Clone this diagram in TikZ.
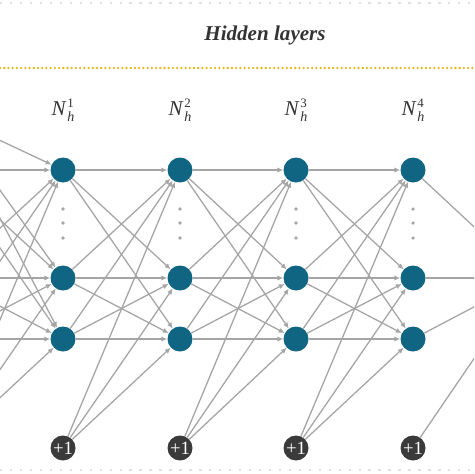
\documentclass[tikz,border=0pt]{standalone}
\usepackage{fontspec}
\setmainfont{Liberation Serif}
\usetikzlibrary{arrows.meta}

\definecolor{nodeteal}{RGB}{16,101,130}
\definecolor{biasgray}{RGB}{58,58,58}
\definecolor{wiregray}{RGB}{165,165,165}
\definecolor{rulegold}{RGB}{230,180,30}

\newcommand{\layerlab}[1]{\textit{N}\kern0.6pt\rlap{\raisebox{0.85ex}{\fontsize{11}{11}\selectfont #1}}\raisebox{-0.55ex}{\fontsize{12}{12}\selectfont\textit{h}}}

\tikzset{
    neuron/.style={circle, fill=nodeteal, minimum size=0.75cm, inner sep=0pt},
    biasunit/.style={circle, fill=biasgray, minimum size=0.75cm, inner sep=0pt,
        text=white, font=\fontsize{16}{16}\selectfont},
    wire/.style={wiregray, line width=1.1pt, -{Latex[length=5pt,width=4.5pt]}},
}

\begin{document}
\begin{tikzpicture}[x=0.03cm, y=-0.03cm]
    \useasboundingbox (0,0) rectangle (474,474);
    \clip (0,0) rectangle (474,474);

    % Frame rules
    \draw[gray!25, line width=2pt, dash pattern=on 2pt off 6.5pt] (0,3) -- (474,3);
    \draw[gray!25, line width=2pt, dash pattern=on 2pt off 6.5pt] (0,470) -- (474,470);

    % Title
    \node[font=\bfseries\itshape\fontsize{18}{20}\selectfont, text=black!80] (title) at (265,35) {Hidden layers};
    \draw[rulegold, line width=2.2pt, line cap=round, dash pattern=on 0pt off 3.6pt] (0,68) -- (474,68);

    % Hidden layers
    \foreach \c/\x in {1/63,2/180,3/296,4/413}{
        \node[font=\fontsize{18}{20}\selectfont, text=black!80] (lab\c) at (\x,110) {\layerlab{\c}};
        \foreach \r/\y in {1/170,2/278,3/339}
            \node[neuron] (h\c-\r) at (\x,\y) {};
        \node[biasunit] (b\c) at (\x,448) {+1};
        \foreach \y in {209,223,238}
            \fill[wiregray] (\x,\y) circle (1.5pt);
    }

    % Input and output layers (outside the crop)
    \foreach \r/\y in {1/115,2/170,3/278,4/339}
        \coordinate (in\r) at (-54,\y);
    \coordinate (inb) at (-54,448);
    \coordinate (out) at (529,278);

    % Connections
    \foreach \j in {1,2,3}{
        \foreach \i in {1,...,4}
            \draw[wire] (in\i) -- (h1-\j);
        \draw[wire] (inb) -- (h1-\j);
    }
    \foreach \c [evaluate=\c as \n using int(\c+1)] in {1,2,3}
        \foreach \j in {1,2,3}{
            \foreach \i in {1,2,3}
                \draw[wire] (h\c-\i) -- (h\n-\j);
            \draw[wire] (b\c) -- (h\n-\j);
        }
    \foreach \i in {1,2,3}
        \draw[wire] (h4-\i) -- (out);
    \draw[wire] (b4) -- (out);
\end{tikzpicture}
\end{document}
